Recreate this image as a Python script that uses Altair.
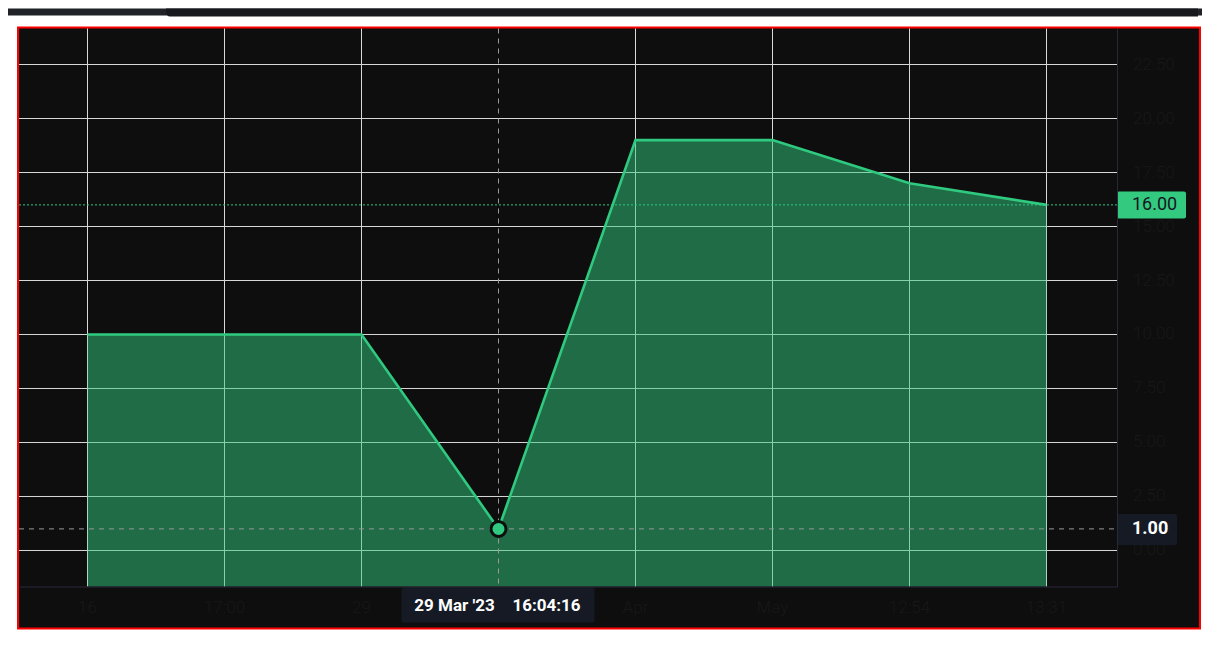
import altair as alt
import pandas as pd

# ---- data
x_labels = ["16", "17:00", "29", "", "Apr", "May", "12:54", "13:31"]
values = [10, 10, 10, 1, 19, 19, 17, 16]
y_ticks = [0, 2.5, 5, 7.5, 10, 12.5, 15, 17.5, 20, 22.5]
grid_x = [0, 1, 2, 4, 5, 6, 7]          # no solid gridline under the crosshair
cross_idx = 3
cross_value = 1
last_value = 16
cross_date = "29 Mar '23"
cross_time = "16:04:16"

# ---- look
W, H = 1098, 558
X_MIN = -0.5
X_MAX = X_MIN + W / 137          # 137 px per bar -> crisp 1px gridlines
Y_MIN, Y_MAX = -1.667, 24.167
BG = "#0e0e0e"
GREEN = "#2fca80"
GRID = "#d8d8d8"
AXIS_LINE = "#2a2838"
FAINT = "#181818"
FONT = "Roboto"

series = pd.DataFrame({"i": range(len(values)), "v": values})
one = pd.DataFrame({"k": [0]})

x_scale = alt.Scale(domain=[X_MIN, X_MAX], nice=False, zero=False)
y_scale = alt.Scale(domain=[Y_MIN, Y_MAX], nice=False, zero=False)

# axes only draw the separating lines; the faint tick labels are text marks
axis_style = dict(grid=False, ticks=False, labels=False, domainColor=AXIS_LINE,
                  domainWidth=1, title=None, zindex=1)
x_axis = alt.Axis(orient="bottom", **axis_style)
y_axis = alt.Axis(orient="right", **axis_style)
X = lambda f: alt.X(f, scale=x_scale)
Y = lambda f: alt.Y(f, scale=y_scale)

# ------ frame: dark strip at top of the page, dark panel with red border
top_strip = alt.Chart(one).mark_rect(color="#1f2227").encode(
    x=alt.value(-11), x2=alt.value(1190), y=alt.value(-20), y2=alt.value(-13))
top_tab = alt.Chart(one).mark_rect(color="#17181d", cornerRadiusBottomLeft=8).encode(
    x=alt.value(147), x2=alt.value(1179), y=alt.value(-20), y2=alt.value(-12))
panel = alt.Chart(one).mark_rect(fill=BG, stroke="#ff0000", strokeWidth=2).encode(
    x=alt.value(-1), x2=alt.value(1181), y=alt.value(-1), y2=alt.value(600))

# ------ grid
h_grid = alt.Chart(pd.DataFrame({"t": y_ticks})).mark_rule(
    color=GRID, strokeWidth=1).encode(
    y=alt.Y("t:Q", scale=y_scale, axis=y_axis), x=alt.value(0), x2=alt.value(W))
v_grid = alt.Chart(pd.DataFrame({"g": grid_x})).mark_rule(
    color=GRID, strokeWidth=1).encode(
    x=alt.X("g:Q", scale=x_scale, axis=x_axis), y=alt.value(0), y2=alt.value(H))

# ------ tick labels
y_labels = alt.Chart(pd.DataFrame({"t": y_ticks})).mark_text(
    align="left", baseline="middle", font=FONT, fontSize=17, fontWeight=300,
    color=FAINT).encode(
    y=Y("t:Q"), x=alt.value(W + 16), text=alt.Text("t:Q", format=".2f"))
x_label_df = pd.DataFrame({"i": range(len(x_labels)), "lab": x_labels})
x_tick_labels = alt.Chart(x_label_df).mark_text(
    align="center", baseline="middle", font=FONT, fontSize=17, fontWeight=300,
    color=FAINT).encode(
    x=X("i:Q"), y=alt.value(H + 21), text="lab:N")

# ------ series
area = alt.Chart(series).mark_area(color=GREEN, opacity=0.5).encode(
    x=alt.X("i:Q", scale=x_scale, axis=x_axis),
    y=alt.Y("v:Q", scale=y_scale, axis=y_axis),
    y2=alt.Y2(datum=Y_MIN),
)
line = alt.Chart(series).mark_line(color=GREEN, strokeWidth=2.6).encode(
    x=X("i:Q"), y=Y("v:Q"))

# ------ crosshair + last-value line
cross = pd.DataFrame({"i": [cross_idx], "v": [cross_value]})
cross_v = alt.Chart(cross).mark_rule(color="#9a9a9a", strokeDash=[5, 5], strokeWidth=1).encode(
    x=X("i:Q"), y=alt.value(0), y2=alt.value(H))
cross_h = alt.Chart(cross).mark_rule(color="#9a9a9a", strokeDash=[5, 5], strokeWidth=1).encode(
    y=Y("v:Q"), x=alt.value(0), x2=alt.value(W))
last = pd.DataFrame({"v": [last_value]})
last_line = alt.Chart(last).mark_rule(color=GREEN, strokeDash=[2, 2], strokeWidth=1).encode(
    y=Y("v:Q"), x=alt.value(0), x2=alt.value(W))
dot = alt.Chart(cross).mark_circle(
    size=225, color=GREEN, opacity=1, stroke=BG, strokeWidth=3).encode(
    x=X("i:Q"), y=Y("v:Q"))

# ------ price labels on the right axis
last_box = alt.Chart(last).mark_rect(
    color="#33c97f", cornerRadius=2, yOffset=-13.5, y2Offset=13.5).encode(
    y=Y("v:Q"), y2="v:Q", x=alt.value(W), x2=alt.value(W + 69))
last_text = alt.Chart(last).mark_text(
    align="left", baseline="middle", font=FONT, fontSize=18, color="#131722").encode(
    y=Y("v:Q"), x=alt.value(W + 15), text=alt.Text("v:Q", format=".2f"))
cross_box = alt.Chart(cross).mark_rect(
    color="#161a25", cornerRadius=2, yOffset=-15, y2Offset=16).encode(
    y=Y("v:Q"), y2="v:Q", x=alt.value(W), x2=alt.value(W + 60))
cross_text = alt.Chart(cross).mark_text(
    align="left", baseline="middle", font=FONT, fontSize=18, fontWeight="bold",
    color="#ffffff").encode(
    y=Y("v:Q"), x=alt.value(W + 15), text=alt.Text("v:Q", format=".2f"))

# ------ time label under the crosshair
time_df = pd.DataFrame({"i": [cross_idx], "d": [cross_date], "t": [cross_time]})
time_box = alt.Chart(time_df).mark_rect(
    color="#161a25", cornerRadius=2, xOffset=-97, x2Offset=96).encode(
    x=X("i:Q"), x2="i:Q", y=alt.value(H + 1), y2=alt.value(H + 36))
time_date = alt.Chart(time_df).mark_text(
    align="center", baseline="middle", font=FONT, fontSize=17, fontWeight="bold",
    color="#ffffff", dx=-44).encode(
    x=X("i:Q"), y=alt.value(H + 19), text="d:N")
time_clock = alt.Chart(time_df).mark_text(
    align="center", baseline="middle", font=FONT, fontSize=17, fontWeight="bold",
    color="#ffffff", dx=48).encode(
    x=X("i:Q"), y=alt.value(H + 19), text="t:N")

chart = (
    alt.layer(
        top_strip, top_tab, panel, h_grid, v_grid, y_labels, x_tick_labels,
        area, line, cross_v, cross_h, last_line, dot,
        last_box, last_text, cross_box, cross_text,
        time_box, time_date, time_clock,
    )
    .properties(
        width=W, height=H,
        autosize=alt.AutoSizeParams(type="none"),
        padding={"left": 11, "top": 20.5, "right": 85, "bottom": 50},
        background="#ffffff",
    )
    .configure_view(stroke=None)
)

chart.save("out.html", embed_options={"renderer": "svg", "actions": False})
